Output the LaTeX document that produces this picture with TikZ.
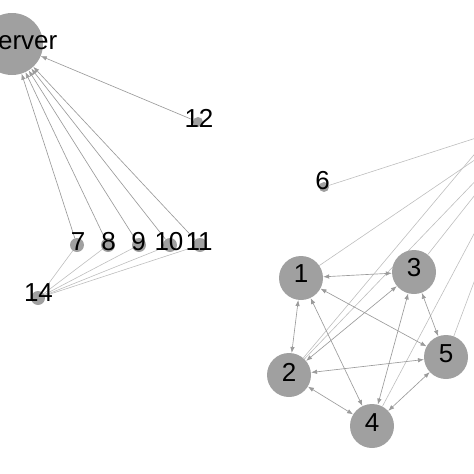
\documentclass[tikz,border=0pt]{standalone}
\usepackage{fontspec}
\setmainfont{Liberation Sans}
\usetikzlibrary{arrows.meta,backgrounds}
\definecolor{nodegray}{RGB}{160,160,160}
\definecolor{edgegray}{RGB}{155,155,155}
\definecolor{thingray}{RGB}{190,190,190}
\begin{document}
\begin{tikzpicture}[x=1pt,y=-1pt,
  big/.style={circle,fill=nodegray,minimum size=44pt,inner sep=0pt},
  srv/.style={circle,fill=nodegray,minimum size=62pt,inner sep=0pt},
  dot/.style={circle,fill=nodegray,minimum size=14pt,inner sep=0pt},
  smalldot/.style={circle,fill=nodegray,minimum size=10pt,inner sep=0pt},
  lbl/.style={font=\fontsize{26}{26}\selectfont,inner sep=0pt},
  arr/.style={draw=edgegray,line width=0.65pt,{Latex[length=6pt,width=4.5pt]}-{Latex[length=6pt,width=4.5pt]}},
  toarr/.style={draw=edgegray,line width=0.65pt,-{Latex[length=6pt,width=4.5pt]}},
  plain/.style={draw=thingray,line width=0.6pt}]
\useasboundingbox (0,0) rectangle (474,474);
\clip (0,0) rectangle (474,474);

% nodes
\node[srv] (srv) at (12,44) {};
\node[lbl] (lsrv) at (19,41) {Server};

\node[dot] (n7) at (77,245) {};
\node[dot] (n8) at (108,245) {};
\node[dot] (n9) at (139,245) {};
\node[dot] (n10) at (170,245) {};
\node[dot] (n11) at (200,245) {};
\node[dot] (n14) at (38,298) {};
\node[smalldot] (n12) at (198,122) {};
\node[smalldot] (n6) at (324,187) {};

\node[lbl] (l7) at (78,242) {7};
\node[lbl] (l8) at (108.5,242) {8};
\node[lbl] (l9) at (138.5,242) {9};
\node[lbl] (l10) at (169,242) {10};
\node[lbl] (l11) at (199,242) {11};
\node[lbl] (l12) at (199,118) {12};
\node[lbl] (l14) at (38.5,293) {14};
\node[lbl] (l6) at (322.5,181) {6};

\node[big] (n1) at (301,278) {};
\node[big] (n2) at (289,375) {};
\node[big] (n3) at (414,272) {};
\node[big] (n4) at (372,426) {};
\node[big] (n5) at (446,357) {};
\node[lbl] (l1) at (301,274) {1};
\node[lbl] (l2) at (289,372) {2};
\node[lbl] (l3) at (414,268) {3};
\node[lbl] (l4) at (372,423) {4};
\node[lbl] (l5) at (446,354) {5};

\coordinate (X) at (535,119);
\coordinate (Y) at (520,100);

% edges
\begin{pgfonlayer}{background}
\foreach \s in {n7,n8,n9,n10,n11,n12} \draw[toarr] (\s) -- (srv);
\foreach \t in {n7,n8,n9,n10,n11} \draw[plain] (n14.center) -- (\t.center);
\foreach \s in {n6,n1,n2,n3,n4,n5} \draw[plain] (\s) -- (X);
\draw[plain] (n2) -- (Y);
\draw[arr] (n1) -- (n3);
\draw[arr] (n1) -- (n2);
\draw[arr] (n1) -- (n4);
\draw[arr] (n1) -- (n5);
\draw[arr] (n2) -- (n3);
\draw[arr] (n2) -- (n4);
\draw[arr] (n2) -- (n5);
\draw[arr] (n3) -- (n4);
\draw[arr] (n3) -- (n5);
\draw[arr] (n4) -- (n5);
\end{pgfonlayer}
\end{tikzpicture}
\end{document}
